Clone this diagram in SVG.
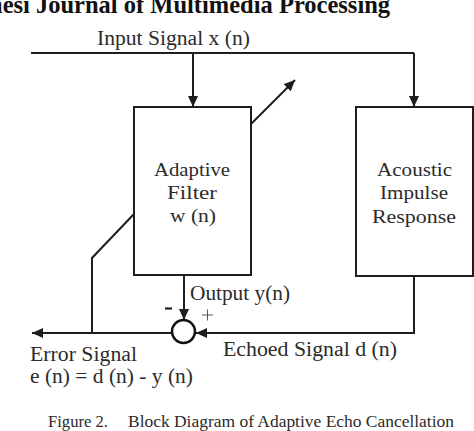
<svg xmlns="http://www.w3.org/2000/svg" width="474" height="431" viewBox="0 0 474 431">
<defs>
<style>
.ln{fill:none;stroke:#1e1e1e;stroke-width:2}
.box{fill:#fff;stroke:#1e1e1e;stroke-width:2}
.t{font-family:"Liberation Serif","Times New Roman",serif;fill:#2b2b2b}
.lbl{font-size:20px}
.bx{font-size:19px;text-anchor:middle}
.cap{font-size:16.5px}
.title{font-family:"Liberation Serif","Times New Roman",serif;font-weight:bold;font-size:24.5px;fill:#111}
</style>
<marker id="ah" markerUnits="userSpaceOnUse" markerWidth="12" markerHeight="10" refX="11" refY="5" orient="auto">
<path d="M0,0 L11,5 L0,10 Z" fill="#1e1e1e"/>
</marker>
</defs>
<rect width="474" height="431" fill="#fff"/>
<text class="title" x="-11" y="13">nesi Journal of Multimedia Processing</text>

<g id="connectors">
<path class="ln" d="M31,53 H414"/>
<path class="ln" d="M193,53 V107" marker-end="url(#ah)"/>
<path class="ln" d="M414,53 V107" marker-end="url(#ah)"/>
<path class="ln" d="M184,276 V320" marker-end="url(#ah)"/>
<path class="ln" d="M414,276 V333 H196" marker-end="url(#ah)"/>
<path class="ln" d="M172,333 H32" marker-end="url(#ah)"/>
<path class="ln" d="M92,333 V258 L134,214"/>
<path class="ln" d="M251.5,123.5 L295,80" marker-end="url(#ah)"/>
</g>

<g id="adaptive-filter">
<rect class="box" x="134" y="107" width="117" height="168"/>
<text class="t bx" x="192" y="176" textLength="76" lengthAdjust="spacingAndGlyphs">Adaptive</text>
<text class="t bx" x="192" y="199" textLength="50" lengthAdjust="spacingAndGlyphs">Filter</text>
<text class="t bx" x="193" y="222" textLength="46" lengthAdjust="spacingAndGlyphs">w (n)</text>
</g>

<g id="acoustic">
<rect class="box" x="356" y="107" width="117" height="169"/>
<text class="t bx" x="414.5" y="176" textLength="75" lengthAdjust="spacingAndGlyphs">Acoustic</text>
<text class="t bx" x="414" y="199" textLength="68" lengthAdjust="spacingAndGlyphs">Impulse</text>
<text class="t bx" x="414" y="223" textLength="84" lengthAdjust="spacingAndGlyphs">Response</text>
</g>

<g id="sum">
<circle cx="183.5" cy="331.5" r="11.5" fill="#fff" stroke="#111" stroke-width="2.4"/>
<path d="M165,308.5 H172" stroke="#1e1e1e" stroke-width="2.2"/>
<path d="M202,315 H213 M207.5,309.5 V320.5" stroke="#555" stroke-width="1"/>
</g>

<g id="labels">
<text class="t lbl" x="97" y="45" textLength="153" lengthAdjust="spacingAndGlyphs">Input Signal x (n)</text>
<text class="t lbl" x="190" y="300" textLength="100" lengthAdjust="spacingAndGlyphs">Output y(n)</text>
<text class="t lbl" x="223" y="356" textLength="174" lengthAdjust="spacingAndGlyphs">Echoed Signal d (n)</text>
<text class="t lbl" x="30" y="361" textLength="107" lengthAdjust="spacingAndGlyphs">Error Signal</text>
<text class="t lbl" x="30" y="383" textLength="163" lengthAdjust="spacingAndGlyphs">e (n) = d (n) - y (n)</text>
<text class="t cap" x="48" y="427" textLength="60" lengthAdjust="spacingAndGlyphs">Figure 2.</text>
<text class="t cap" x="128" y="427" textLength="326" lengthAdjust="spacingAndGlyphs">Block Diagram of Adaptive Echo Cancellation</text>
</g>
</svg>
